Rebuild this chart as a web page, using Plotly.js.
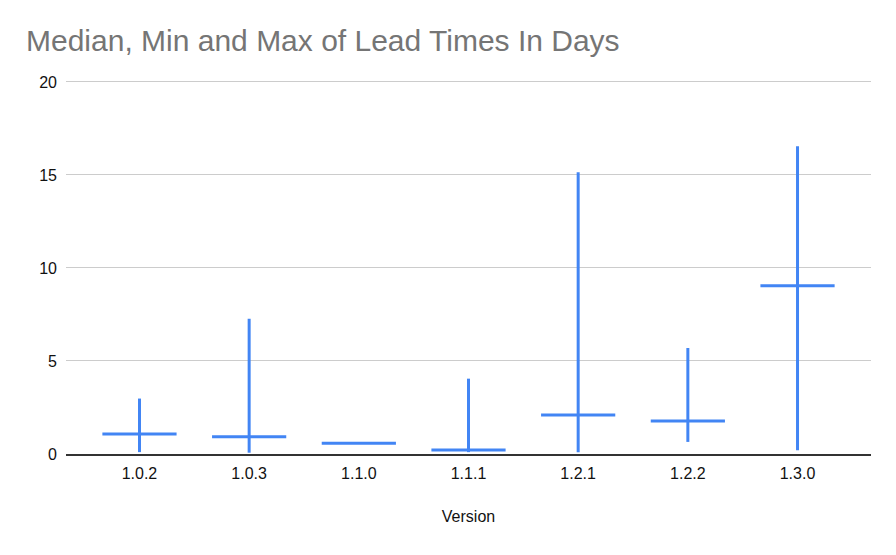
<!DOCTYPE html>
<html>
<head>
<meta charset="utf-8">
<script src="https://cdn.plot.ly/plotly-3.0.1.min.js"></script>
<style>html,body{margin:0;padding:0;background:#fff;}#chart{width:896px;height:555px;}</style>
</head>
<body>
<div id="chart"></div>
<script>
const versions = ["1.0.2", "1.0.3", "1.1.0", "1.1.1", "1.2.1", "1.2.2", "1.3.0"];
const medianDays = [1.08, 0.93, 0.58, 0.22, 2.1, 1.77, 9.05];
const minDays = [0.1, 0.07, 0.58, 0.1, 0.1, 0.65, 0.2];
const maxDays = [2.98, 7.27, 0.58, 4.05, 15.15, 5.7, 16.55];
const yTicks = [0, 5, 10, 15, 20];

const blue = "#4285F4";
const trace = {
  type: "scatter",
  mode: "markers",
  x: versions,
  y: medianDays,
  marker: {symbol: "line-ew", size: 53, color: blue, line: {color: blue, width: 3}},
  error_y: {
    type: "data",
    symmetric: false,
    array: maxDays.map((v, i) => v - medianDays[i]),
    arrayminus: medianDays.map((v, i) => v - minDays[i]),
    width: 0,
    thickness: 3,
    color: blue
  },
  hoverinfo: "x+y",
  showlegend: false
};

const layout = {
  width: 896,
  height: 555,
  margin: {l: 66, r: 25, t: 76, b: 101},
  paper_bgcolor: "#fff",
  plot_bgcolor: "#fff",
  font: {family: "Liberation Sans, Arial, sans-serif", color: "#000", size: 16},
  title: {
    text: "Median, Min and Max of Lead Times In Days",
    x: 26 / 896, xanchor: "left", xref: "container",
    y: 1 - 40 / 555, yanchor: "middle", yref: "container",
    font: {family: "Liberation Sans, Arial, sans-serif", size: 30, color: "#757575"}
  },
  xaxis: {
    type: "category",
    range: [-0.67, 6.67],
    showgrid: false,
    showline: true,
    linecolor: "#333",
    linewidth: 1.5,
    zeroline: false,
    ticks: "",
    ticklabelstandoff: 4,
    tickfont: {size: 16, color: "#111"},
    title: {text: "Version", font: {size: 16, color: "#111"}, standoff: 30}
  },
  yaxis: {
    range: [0, 20.32],
    tickvals: yTicks,
    ticktext: yTicks.map(String),
    showgrid: true,
    gridcolor: "#cccccc",
    gridwidth: 1,
    zeroline: false,
    showline: false,
    ticks: "",
    ticklabelstandoff: 8,
    tickfont: {size: 16, color: "#111"}
  }
};

Plotly.newPlot("chart", [trace], layout, {displayModeBar: false, staticPlot: true});
</script>
</body>
</html>
